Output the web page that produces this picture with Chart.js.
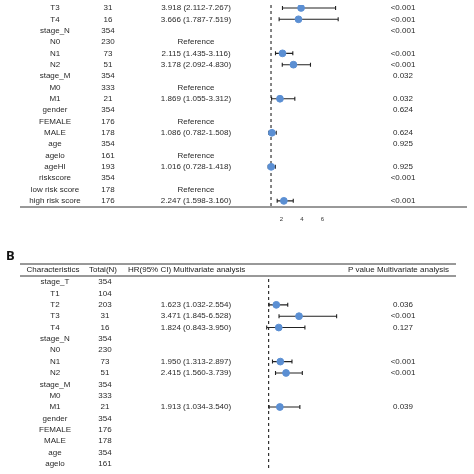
<!DOCTYPE html>
<html><head><meta charset="utf-8">
<script src="https://cdn.jsdelivr.net/npm/chart.js"></script>
<style>
body{margin:0;background:#fff;width:474px;height:474px;overflow:hidden;position:relative;font-family:"Liberation Sans",Arial,sans-serif}
.wrap{position:absolute;left:0;width:474px}
#b{position:absolute;left:6px;top:246px;font:bold 13px "Noto Sans",sans-serif;color:#111}
</style></head><body>
<div class="wrap" style="top:0;height:225px"><canvas id="top"></canvas></div>
<div class="wrap" style="top:240px;height:234px"><canvas id="bot"></canvas></div>
<div id="b">B</div>
<script>
// ---- panel A (univariate, top part cut off) ----
const A_LABELS = ['T3','T4','stage_N','N0','N1','N2','stage_M','M0','M1','gender','FEMALE','MALE','age','agelo','ageHI','riskscore','low risk score','high risk score'];
const A_TOTAL = [31,16,354,230,73,51,354,333,21,354,176,178,354,161,193,354,178,176];
const A_HR = [3.918,3.666,null,'ref',2.115,3.178,null,'ref',1.869,null,'ref',1.086,null,'ref',1.016,null,'ref',2.247];
const A_LO = [2.112,1.787,null,null,1.435,2.092,null,null,1.055,null,null,0.782,null,null,0.728,null,null,1.598];
const A_HI = [7.267,7.519,null,null,3.116,4.830,null,null,3.312,null,null,1.508,null,null,1.418,null,null,3.160];
const A_P = ['<0.001','<0.001','<0.001','','<0.001','<0.001','0.032','','0.032','0.624','','0.624','0.925','','0.925','<0.001','','<0.001'];
const A_TICKS = [2,4,6];

// ---- panel B (multivariate) ----
const B_LABELS = ['stage_T','T1','T2','T3','T4','stage_N','N0','N1','N2','stage_M','M0','M1','gender','FEMALE','MALE','age','agelo'];
const B_TOTAL = [354,104,203,31,16,354,230,73,51,354,333,21,354,176,178,354,161];
const B_HR = [null,null,1.623,3.471,1.824,null,null,1.950,2.415,null,null,1.913,null,null,null,null,null];
const B_LO = [null,null,1.032,1.845,0.843,null,null,1.313,1.560,null,null,1.034,null,null,null,null,null];
const B_HI = [null,null,2.554,6.528,3.950,null,null,2.897,3.739,null,null,3.540,null,null,null,null,null];
const B_P = ['','','0.036','<0.001','0.127','','','<0.001','<0.001','','','0.039','','','','',''];
const B_HEAD = ['Characteristics','Total(N)','HR(95% CI) Multivariate analysis','P value Multivariate analysis'];

const FONT = '8px "Liberation Sans", Arial, sans-serif';
const TXT = '#2a2a2a';

function forestPlugin(cfg){
  return {id:'forest',
    beforeDatasetsDraw(chart){
      const ctx=chart.ctx, ca=chart.chartArea, xs=chart.scales.x;
      const x1=xs.getPixelForValue(1);
      ctx.save();
      ctx.strokeStyle='#222';ctx.lineWidth=1.1;ctx.setLineDash([3,3]);
      ctx.beginPath();ctx.moveTo(x1,ca.top+cfg.dashTop);ctx.lineTo(x1,ca.bottom);ctx.stroke();
      ctx.restore();
    },
    afterDatasetsDraw(chart){
      const ctx=chart.ctx, ca=chart.chartArea, xs=chart.scales.x, ys=chart.scales.y;
      ctx.save();
      ctx.font=FONT;ctx.fillStyle=TXT;ctx.textBaseline='middle';ctx.textAlign='center';
      cfg.labels.forEach((l,i)=>{
        const y=ys.getPixelForValue(i);
        ctx.fillText(l,55,y);
        ctx.fillText(String(cfg.total[i]),cfg.totalX,y);
        const h=cfg.hr[i];
        if(h==='ref') ctx.fillText('Reference',196,y);
        else if(h!=null) ctx.fillText(h.toFixed(3)+' ('+cfg.lo[i].toFixed(3)+'-'+cfg.hi[i].toFixed(3)+')',196,y);
        if(cfg.p[i]) ctx.fillText(cfg.p[i],403,y);
      });
      if(cfg.head){
        ctx.font=FONT;ctx.fillStyle='#222';
        const hy=30;
        ctx.textAlign='center';ctx.fillText(cfg.head[0],53,hy);ctx.fillText(cfg.head[1],103,hy);
        ctx.textAlign='left';ctx.fillText(cfg.head[2],128,hy);ctx.fillText(cfg.head[3],348,hy);
        ctx.strokeStyle='#333';ctx.lineWidth=1;
        ctx.beginPath();ctx.moveTo(20,24);ctx.lineTo(456,24);ctx.stroke();
        ctx.beginPath();ctx.moveTo(20,36);ctx.lineTo(456,36);ctx.stroke();
      }
      if(cfg.axisLine){
        ctx.strokeStyle='#333';ctx.lineWidth=1;
        ctx.beginPath();ctx.moveTo(20,ca.bottom);ctx.lineTo(467,ca.bottom);ctx.stroke();
      }
      ctx.restore();
    }
  };
}

function makeChart(id,cfg){
  const pts=[], bars=[];
  cfg.hr.forEach((h,i)=>{ if(typeof h==='number'){ pts.push({x:h,y:i}); bars.push({lo:cfg.lo[i],hi:cfg.hi[i],y:i}); } });
  const whisker={id:'whisker',beforeDatasetsDraw(chart){
    const ctx=chart.ctx,xs=chart.scales.x,ys=chart.scales.y;
    ctx.save();ctx.strokeStyle='#222';ctx.lineWidth=1.1;
    bars.forEach(b=>{const y=ys.getPixelForValue(b.y),a=xs.getPixelForValue(b.lo),c=xs.getPixelForValue(b.hi);
      ctx.beginPath();ctx.moveTo(a,y);ctx.lineTo(c,y);ctx.moveTo(a,y-2);ctx.lineTo(a,y+2);ctx.moveTo(c,y-2);ctx.lineTo(c,y+2);ctx.stroke();});
    ctx.restore();}};
  return new Chart(document.getElementById(id),{
    type:'scatter',
    data:{datasets:[{data:pts,backgroundColor:'#5b8fd3',borderColor:'#5b8fd3',pointRadius:3.4}]},
    options:{responsive:true,maintainAspectRatio:false,animation:false,
      layout:{padding:{left:230,right:34,top:cfg.padTop,bottom:0}},
      plugins:{legend:{display:false},tooltip:{enabled:false}},
      scales:{
        x:{type:'linear',min:cfg.xmin,max:cfg.xmax,display:cfg.showX,
          grid:{display:false,drawTicks:true},border:{display:false},
          afterBuildTicks:s=>{s.ticks=A_TICKS.map(v=>({value:v}));},
          afterFit:s=>{s.height=cfg.showX?18:0;},
          ticks:{font:{size:6,family:'"Liberation Sans", Arial'},color:'#333',padding:1}},
        y:{type:'linear',reverse:true,min:cfg.ymin,max:cfg.ymax,display:false}
      }},
    plugins:[forestPlugin(cfg),whisker]
  });
}

makeChart('top',{labels:A_LABELS,total:A_TOTAL,hr:A_HR,lo:A_LO,hi:A_HI,p:A_P,totalX:108,
  xmin:-2.98,xmax:17.4,ymin:-0.26,ymax:17.54,padTop:0,showX:true,axisLine:true,dashTop:0});
makeChart('bot',{labels:B_LABELS,total:B_TOTAL,hr:B_HR,lo:B_LO,hi:B_HI,p:B_P,totalX:105,head:B_HEAD,
  xmin:-2.14,xmax:14.93,ymin:-0.54,ymax:16.46,padTop:36,showX:false,dashTop:3});
</script>
</body></html>
